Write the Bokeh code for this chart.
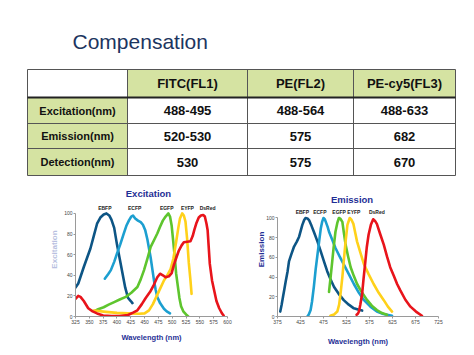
from bokeh.plotting import figure
from bokeh.layouts import column, row
from bokeh.models import Range1d, FixedTicker
from bokeh.core.properties import value
from bokeh.embed import file_html
from bokeh.resources import INLINE

# ---------------- data ----------------
title_text = "Compensation"
col_labels = ["FITC(FL1)", "PE(FL2)", "PE-cy5(FL3)"]
row_labels = ["Excitation(nm)", "Emission(nm)", "Detection(nm)"]
row_excitation = ["488-495", "488-564", "488-633"]
row_emission = ["520-530", "575", "682"]
row_detection = ["530", "575", "670"]

dyes = ["EBFP", "ECFP", "EGFP", "EYFP", "DsRed"]
dye_colors = ["#0d5585", "#1c9fd0", "#5ec52e", "#ffd11a", "#e8141b"]

# Excitation spectra (wavelength nm, relative %)
ex_ebfp_x = [325, 330, 335, 340, 346, 352, 358, 364, 370, 376, 381, 386, 390, 395, 400, 405, 410, 415, 420, 425, 428]
ex_ebfp_y = [28, 32, 40, 48, 57, 66, 78, 90, 96, 99, 100, 98, 94, 86, 70, 56, 42, 28, 18, 15, 13]
ex_ecfp_x = [378, 384, 389, 395, 400, 406, 412, 417, 422, 426, 429, 433, 438, 443, 447, 451, 455, 458, 461, 464, 467, 470, 473, 478, 485, 490, 496]
ex_ecfp_y = [36.7, 41, 45, 53, 61, 70, 80, 88, 93.5, 97, 98, 95, 93, 91.5, 89, 84, 75, 66, 57, 46, 35, 26, 19, 13, 7.5, 5, 3]
ex_egfp_x = [358, 366, 376, 385, 395, 405, 416, 426, 437, 443, 449, 455, 461, 467, 473, 478, 483, 488, 493, 496, 499, 502, 505, 507, 510, 513, 516, 520, 525, 529]
ex_egfp_y = [5, 7, 9, 11.5, 14, 16.5, 19, 23, 28.6, 36, 45, 56, 67.5, 74, 80.5, 87, 93, 97, 100, 97, 88, 72, 55, 42, 30, 18, 10, 5, 2, 0]
ex_eyfp_x = [358, 380, 400, 420, 440, 450, 458, 465, 472, 479, 485, 491, 497, 502, 507, 511, 514, 518, 521, 524, 527, 530, 533, 535]
ex_eyfp_y = [5.8, 4.5, 3.5, 3, 2.6, 3, 6, 12, 20, 28, 35, 40, 46, 56, 72, 86, 95, 100, 98, 92, 75, 52, 35, 22]
ex_dsred_x = [325, 330, 334, 340, 348, 356, 364, 375, 390, 405, 420, 430, 437, 445, 452, 460, 467, 473, 478, 483, 488, 494, 499, 503, 508, 512, 517, 521, 527, 533, 537, 540, 544, 548, 552, 556, 559, 562, 564, 568, 572, 576, 580, 585, 590, 593]
ex_dsred_y = [17, 20, 19, 15, 8, 5, 3, 1, 0.5, 0.5, 1.5, 4, 6, 12, 18, 24, 31, 38, 41.5, 40, 38, 39, 42, 50, 58, 64, 69, 72, 72.5, 73, 78, 84, 91, 96, 98, 98.5, 97, 90, 84, 51, 35, 25, 15, 8, 3, 1]

# Emission spectra
em_ebfp_x = [381, 384, 387, 390, 393, 397, 400, 405, 411, 417, 422, 426, 429, 433, 436, 440, 444, 449, 454, 462, 469, 476, 483, 490, 498, 508, 519, 530, 541, 550, 559]
em_ebfp_y = [5, 12, 20, 28, 36, 46, 56, 63, 71, 76, 81, 88, 93, 98, 100, 99.5, 97.5, 92, 86, 76, 66, 56, 46, 38, 30, 23, 16.6, 12, 8.3, 7, 6]
em_ecfp_x = [440, 443, 447, 450, 454, 458, 462, 466, 469, 472, 475, 478, 480, 484, 487, 494, 501, 510, 519, 530, 541, 552, 563, 577, 591, 605, 624]
em_ecfp_y = [0, 2, 6.6, 15, 30, 48, 63, 78, 89, 96, 100, 98.5, 96, 91, 86, 78, 69.5, 61, 53, 43, 33, 24, 16.6, 10, 5, 2.5, 0.7]
em_egfp_x = [487, 490, 494, 497, 501, 505, 508.5, 512, 516, 519, 523, 528, 534, 541, 548, 559, 570, 580, 591, 602, 613]
em_egfp_y = [25, 38, 56, 70, 86, 95, 100, 99, 96, 86, 73, 62, 50, 41, 33, 24, 16.6, 11, 6.6, 3.5, 1.7]
em_eyfp_x = [490, 498, 505, 509, 512, 516, 519, 523, 527, 532, 536, 540, 544, 548, 555, 563, 573, 584, 595, 606, 615, 624]
em_eyfp_y = [0.7, 2, 5, 12, 23, 40, 56, 76, 93, 100, 98, 94, 85, 76, 65, 53, 43, 33, 24, 16.6, 10, 5]
em_dsred_x = [547, 550, 552, 555, 559, 562, 566, 569, 573, 578, 583, 587, 591, 598, 606, 613, 620, 628, 635, 642, 653, 664, 676, 689]
em_dsred_y = [1.7, 3, 5, 12, 23, 38, 56, 70, 83, 93, 98.7, 97, 94, 84, 73, 61, 50, 41, 33, 26.5, 17, 10, 5, 0.7]

ex_label_x = [378, 432, 490, 527.5, 564]
ex_label_y = [105, 105, 105, 105, 105]
em_label_x = [429, 467, 509, 541, 591]
em_label_y = [106, 106, 106, 106, 106]

ex_xticks = [325, 350, 375, 400, 425, 450, 475, 500, 525, 550, 575, 600]
em_xticks = [375, 425, 475, 525, 575, 625, 675, 725]
yticks = [0, 20, 40, 60, 80, 100]

FONT = value("Liberation Sans")
NAVY = "#1f2f95"

# ---------------- top: title + table ----------------
top = figure(width=474, height=180, x_range=Range1d(0, 474), y_range=Range1d(180, 0),
             output_backend="svg", toolbar_location=None, min_border=0)
top.axis.visible = False
top.grid.visible = False
top.outline_line_color = None

top.text(x=[72], y=[40.5], text=[title_text], text_font=FONT, text_font_size="21px",
         text_color="#1c3560", text_baseline="alphabetic", text_align="left")

col_edges = [27, 127, 247, 353, 455]
row_edges = [69, 97, 123, 148, 175]
GREEN = "#d5e3a2"

# green cells: header row (cols 1..3), first column (rows 1..3)
gl, gr, gt, gb = [], [], [], []
for j in range(1, 4):
    gl.append(col_edges[j]); gr.append(col_edges[j + 1]); gt.append(row_edges[0]); gb.append(row_edges[1])
for i in range(1, 4):
    gl.append(col_edges[0]); gr.append(col_edges[1]); gt.append(row_edges[i]); gb.append(row_edges[i + 1])
top.quad(left=gl, right=gr, top=gt, bottom=gb, fill_color=GREEN, line_color=None)

# grid lines
for j, x in enumerate(col_edges):
    top.segment(x0=[x], y0=[row_edges[0]], x1=[x], y1=[row_edges[-1]],
                line_color="#555555", line_width=1)
for i, y in enumerate(row_edges):
    top.segment(x0=[col_edges[0]], y0=[y], x1=[col_edges[-1]], y1=[y],
                line_color="#222222" if i == 1 else "#555555", line_width=2 if i == 1 else 1)

col_centers = [(col_edges[j] + col_edges[j + 1]) / 2 for j in range(4)]
row_centers = [(row_edges[i] + row_edges[i + 1]) / 2 for i in range(4)]

top.text(x=col_centers[1:], y=[row_centers[0]] * 3, text=col_labels, text_font=FONT,
         text_font_style="bold", text_font_size="13px", text_color="#111111",
         text_align="center", text_baseline="middle")
top.text(x=[col_centers[0]] * 3, y=row_centers[1:], text=row_labels, text_font=FONT,
         text_font_style="bold", text_font_size="11px", text_color="#111111",
         text_align="center", text_baseline="middle")
for i, vals in enumerate([row_excitation, row_emission, row_detection]):
    top.text(x=col_centers[1:], y=[row_centers[i + 1]] * 3, text=vals, text_font=FONT,
             text_font_style="bold", text_font_size="13px", text_color="#111111",
             text_align="center", text_baseline="middle")


def style_spectrum(p, xticks, xlabel_standoff, ylabel, ylabel_color, ylabel_standoff):
    p.grid.visible = False
    p.outline_line_color = None
    for ax in p.axis:
        ax.axis_line_color = "#9a9a9a"
        ax.major_tick_line_color = "#9a9a9a"
        ax.major_tick_out = 2
        ax.major_tick_in = 0
        ax.minor_tick_line_color = None
        ax.major_label_text_font = "Liberation Sans"
        ax.major_label_text_font_size = "5px"
        ax.major_label_text_color = "#444444"
        ax.major_label_standoff = 1
        ax.axis_label_text_font = "Liberation Sans"
        ax.axis_label_text_font_style = "bold"
    p.xaxis.ticker = FixedTicker(ticks=xticks)
    p.xaxis.axis_label = "Wavelength (nm)"
    p.xaxis.axis_label_text_font_size = "7.5px"
    p.xaxis.axis_label_text_color = NAVY
    p.xaxis.axis_label_standoff = xlabel_standoff
    p.yaxis.ticker = FixedTicker(ticks=yticks)
    p.yaxis.bounds = (0, 100)
    p.yaxis.axis_label = ylabel
    p.yaxis.axis_label_text_font_size = "8px"
    p.yaxis.axis_label_text_color = ylabel_color
    p.yaxis.axis_label_standoff = ylabel_standoff


# ---------------- excitation chart ----------------
exc = figure(width=250, height=175, x_range=Range1d(325, 600), y_range=Range1d(0, 130),
             output_backend="svg", toolbar_location=None,
             min_border_left=75, min_border_right=23, min_border_top=2, min_border_bottom=39)
style_spectrum(exc, ex_xticks, 6, "Excitation", "#b8bfe0", 2)
ex_series = [(ex_ebfp_x, ex_ebfp_y), (ex_ecfp_x, ex_ecfp_y), (ex_egfp_x, ex_egfp_y),
             (ex_eyfp_x, ex_eyfp_y), (ex_dsred_x, ex_dsred_y)]
for (xs, ys), c in zip(ex_series, dye_colors):
    exc.line(xs, ys, line_color=c, line_width=2.6, line_join="round", line_cap="round")
exc.text(x=ex_label_x, y=ex_label_y, text=dyes, text_font=FONT, text_font_style="bold",
         text_font_size="5px", text_color="#222222", text_align="center", text_baseline="middle")
exc.text(x=[457], y=[119.4], text=["Excitation"], text_font=FONT, text_font_style="bold",
         text_font_size="9.5px", text_color=NAVY, text_align="center", text_baseline="middle")

# ---------------- emission chart ----------------
em = figure(width=224, height=175, x_range=Range1d(375, 725), y_range=Range1d(0, 136),
            output_backend="svg", toolbar_location=None,
            min_border_left=27, min_border_right=36, min_border_top=2, min_border_bottom=37)
style_spectrum(em, em_xticks, 10, "Emission", NAVY, -3)
em_series = [(em_ebfp_x, em_ebfp_y), (em_ecfp_x, em_ecfp_y), (em_egfp_x, em_egfp_y),
             (em_eyfp_x, em_eyfp_y), (em_dsred_x, em_dsred_y)]
for (xs, ys), c in zip(em_series, dye_colors):
    em.line(xs, ys, line_color=c, line_width=2.6, line_join="round", line_cap="round")
em.text(x=em_label_x, y=em_label_y, text=dyes, text_font=FONT, text_font_style="bold",
        text_font_size="5px", text_color="#222222", text_align="center", text_baseline="middle")
em.text(x=[537], y=[119], text=["Emission"], text_font=FONT, text_font_style="bold",
        text_font_size="9.5px", text_color=NAVY, text_align="center", text_baseline="middle")

layout = column(top, row(exc, em))
open("out.html", "w").write(file_html(layout, INLINE))
